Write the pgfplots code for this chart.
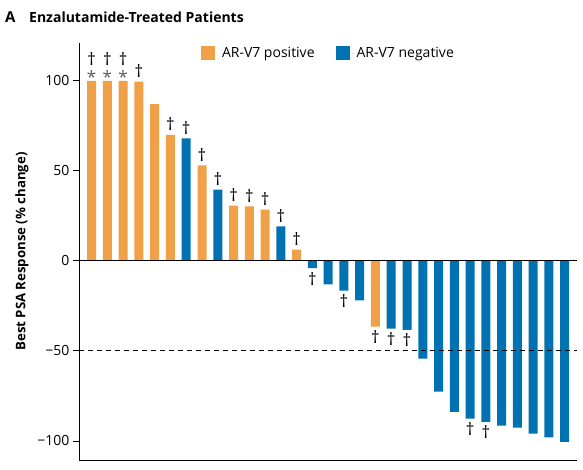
\documentclass[border=0pt]{standalone}
\usepackage{fontspec}
\setmainfont{Open Sans}
\usepackage{pgfplots}
\pgfplotsset{compat=1.18}
\definecolor{posor}{RGB}{240,160,70}
\definecolor{negbl}{RGB}{0,114,178}
\begin{document}
\begin{tikzpicture}
\path[use as bounding box] (-79pt,-9pt) rectangle (504pt,460pt);
\begin{axis}[
  scale only axis, width=498pt, height=417pt,
  xmin=0.2, xmax=31.78, ymin=-110.6, ymax=121,
  axis x line*=bottom, axis y line*=left,
  axis line style={-, line width=0.8pt, black},
  xtick=\empty,
  ytick={-100,-50,0,50,100},
  yticklabels={−100,−50,0,50,100},
  tick align=outside, major tick length=6pt,
  tick style={line width=0.8pt, black},
  yticklabel style={font=\fontsize{14}{15}\selectfont},
  ylabel={\bfseries Best PSA Response (\% change)},
  ylabel style={font=\fontsize{13.2}{14}\selectfont, at={(axis description cs:-0.1145,0.5)}, anchor=center},
  bar width=9pt,
  legend style={at={(axis description cs:0.245,0.976)}, anchor=west, draw=none, fill=none,
    inner sep=0pt, outer sep=0pt, font=\fontsize{14}{15}\selectfont,
    /tikz/every even column/.append style={column sep=19pt}},
  legend columns=2,
  legend cell align=left,
  clip=false,
  annot/.style={forget plot, only marks, mark=*, mark size=0pt, mark options={draw=none, fill=none},
    nodes near coords, point meta=explicit symbolic},
]
\addplot[ybar, bar shift=0pt, fill=posor, draw=none,
  legend image code/.code={\fill[posor] (0pt,-7pt) rectangle (14pt,7pt); \path (0pt,0pt) -- (19pt,0pt);}]
  coordinates {(1,100) (2,100) (3,100) (4,99.5) (5,87) (6,70) (8,53) (10,30.7) (11,30.2) (12,28.5) (14,6.3) (19,-36.5)};
\addlegendentry{AR-V7 positive}
\addplot[ybar, bar shift=0pt, fill=negbl, draw=none,
  legend image code/.code={\fill[negbl] (0pt,-7pt) rectangle (14pt,7pt); \path (0pt,0pt) -- (19pt,0pt);}]
  coordinates {(7,68) (9,39.6) (13,19.1) (15,-4.1) (16,-13) (17,-16.5) (18,-22) (20,-37.6) (21,-38.3)
    (22,-54.3) (23,-72.6) (24,-83.9) (25,-87.6) (26,-89.4) (27,-91.5) (28,-92.6) (29,-95.9) (30,-98.1) (31,-100.5)};
\addlegendentry{AR-V7 negative}
% reference lines
\addplot[forget plot, black, line width=0.8pt] coordinates {(0.2,0) (31.78,0)};
\addplot[forget plot, black, line width=0.8pt, dash pattern=on 5pt off 4pt] coordinates {(0.2,-50) (31.78,-50)};
% daggers above positive bars
\addplot[annot,
  every node near coord/.append style={anchor=south, yshift=4pt, inner sep=0pt, font=\fontsize{17}{18}\selectfont}]
  coordinates {(4,99.5)[\textdagger] (6,70)[\textdagger] (7,68)[\textdagger] (8,53)[\textdagger] (9,39.6)[\textdagger]
   (10,30.7)[\textdagger] (11,30.2)[\textdagger] (12,28.5)[\textdagger] (13,19.1)[\textdagger] (14,6.3)[\textdagger]};
\addplot[annot,
  every node near coord/.append style={anchor=south, yshift=15pt, inner sep=0pt, font=\fontsize{17}{18}\selectfont}]
  coordinates {(1,100)[\textdagger] (2,100)[\textdagger] (3,100)[\textdagger]};
\addplot[annot,
  every node near coord/.append style={anchor=south, yshift=-3pt, inner sep=0pt, font=\fontsize{17}{18}\selectfont, text=black!65}]
  coordinates {(1,100)[*] (2,100)[*] (3,100)[*]};
% daggers below negative bars
\addplot[annot,
  every node near coord/.append style={anchor=north, yshift=-4pt, inner sep=0pt, font=\fontsize{17}{18}\selectfont}]
  coordinates {(15,-4.1)[\textdagger] (17,-16.5)[\textdagger] (19,-36.5)[\textdagger] (20,-37.6)[\textdagger]
   (21,-38.3)[\textdagger] (25,-87.6)[\textdagger] (26,-89.4)[\textdagger]};
\end{axis}
\node[anchor=base west, font=\fontsize{15}{16}\selectfont\bfseries, inner sep=0pt] at (-74pt,437pt) {A};
\node[anchor=base west, font=\fontsize{14}{16}\selectfont\bfseries, inner sep=0pt] at (-50pt,437pt) {Enzalutamide-Treated Patients};
\end{tikzpicture}
\end{document}
